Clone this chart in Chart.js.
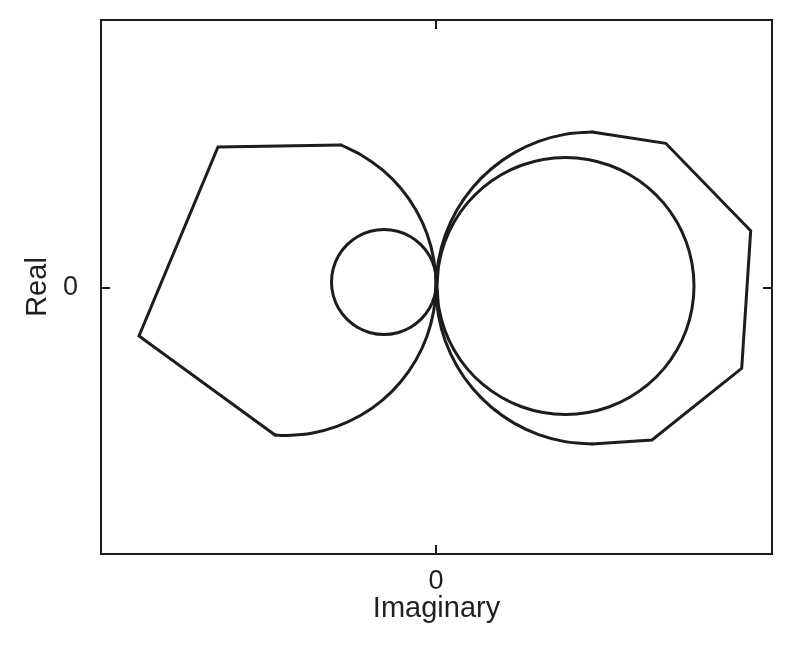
<!DOCTYPE html>
<html>
<head>
<meta charset="utf-8">
<script src="https://cdn.jsdelivr.net/npm/chart.js@4.4.1/dist/chart.umd.min.js"></script>
<style>
  html, body { margin: 0; padding: 0; background: #fff; }
  #wrap { width: 790px; height: 645px; }
</style>
</head>
<body>
<div id="wrap"><canvas id="nyquist" width="790" height="645"></canvas></div>
<script>
// Values (arbitrary units, origin at the 0 ticks)
const tickValues = [0];
const tickLabels = ['0'];

// left curve: arc through the origin ...
const leftArcX = [-0.95, -0.752, -0.538, -0.352, -0.202, -0.091, -0.023, 0.0, -0.023, -0.091, -0.202,
  -0.352, -0.538, -0.752, -0.99, -1.244, -1.505, -1.61];
const leftArcY = [1.43, 1.333, 1.183, 0.997, 0.782, 0.545, 0.291, 0.03, -0.231, -0.485, -0.723,
  -0.937, -1.123, -1.273, -1.384, -1.452, -1.475, -1.47];
// ... closed by straight edges
const leftEdgeX = [-1.61, -2.97, -2.18, -0.95];
const leftEdgeY = [-1.47, -0.48, 1.41, 1.43];

// small loop left of the origin
const smallX = [0.005, -0.013, -0.065, -0.149, -0.2575, -0.384, -0.52, -0.656, -0.7825, -0.891, -0.975, -1.027,
  -1.045, -1.027, -0.975, -0.891, -0.7825, -0.656, -0.52, -0.384, -0.2575, -0.149, -0.065, -0.013, 0.005];
const smallY = [0.06, 0.196, 0.3225, 0.431, 0.515, 0.567, 0.585, 0.567, 0.515, 0.431, 0.3225, 0.196,
  0.06, -0.076, -0.2025, -0.311, -0.395, -0.447, -0.465, -0.447, -0.395, -0.311, -0.2025, -0.076, 0.06];

// inner loop right of the origin
const innerX = [0.01, 0.0295, 0.0875, 0.1822, 0.3107, 0.469, 0.6525, 0.8555, 1.0719, 1.295, 1.5181, 1.7345,
  1.9375, 2.121, 2.2793, 2.4078, 2.5025, 2.5605, 2.58, 2.5605, 2.5025, 2.4078, 2.2793, 2.121,
  1.9375, 1.7345, 1.5181, 1.295, 1.0719, 0.8555, 0.6525, 0.469, 0.3107, 0.1822, 0.0875, 0.0295, 0.01];
const innerY = [0.02, -0.2031, -0.4195, -0.6225, -0.806, -0.9643, -1.0928, -1.1875, -1.2455, -1.265, -1.2455, -1.1875,
  -1.0928, -0.9643, -0.806, -0.6225, -0.4195, -0.2031, 0.02, 0.2431, 0.4595, 0.6625, 0.846, 1.0043,
  1.1328, 1.2275, 1.2855, 1.305, 1.2855, 1.2275, 1.1328, 1.0043, 0.846, 0.6625, 0.4595, 0.2431, 0.02];

// outer right curve: arc through the origin ...
const outerArcX = [1.56, 1.2892, 1.0265, 0.78, 0.5572, 0.365, 0.209, 0.0941, 0.0237, 0.0, 0.0237, 0.0941,
  0.209, 0.365, 0.5572, 0.78, 1.0265, 1.2892, 1.56];
const outerArcY = [1.56, 1.5363, 1.4659, 1.351, 1.195, 1.0028, 0.78, 0.5335, 0.2708, 0.0, -0.2708, -0.5335,
  -0.78, -1.0028, -1.195, -1.351, -1.4659, -1.5363, -1.56];
// ... closed by straight edges
const outerEdgeX = [1.56, 2.16, 3.057, 3.147, 2.297, 1.56];
const outerEdgeY = [-1.56, -1.52, -0.803, 0.573, 1.447, 1.56];

const ink = '#1d1d1b';
const fontFamily = "'Liberation Sans', Arial, Helvetica, sans-serif";

function toPoints(xs, ys) {
  return xs.map((x, i) => ({ x: x, y: ys[i] }));
}

// smooth = true for the round parts, false for the straight edges
function curve(xs, ys, smooth) {
  return {
    data: toPoints(xs, ys),
    showLine: true,
    borderColor: ink,
    borderWidth: 3,
    borderCapStyle: 'round',
    pointRadius: 0,
    fill: false,
    tension: smooth ? 0.335 : 0
  };
}

// frame round the plot area and inward tick marks on all four sides
const framePlugin = {
  id: 'frame',
  afterDraw(chart) {
    const { ctx, chartArea: a, scales } = chart;
    ctx.save();
    ctx.strokeStyle = ink;
    ctx.lineWidth = 2;
    ctx.strokeRect(a.left, a.top, a.right - a.left, a.bottom - a.top);
    const len = 9;
    tickValues.forEach(v => {
      const px = scales.x.getPixelForValue(v);
      const py = scales.y.getPixelForValue(v);
      ctx.beginPath();
      ctx.moveTo(px, a.bottom); ctx.lineTo(px, a.bottom - len);
      ctx.moveTo(px, a.top); ctx.lineTo(px, a.top + len);
      ctx.moveTo(a.left, py); ctx.lineTo(a.left + len, py);
      ctx.moveTo(a.right, py); ctx.lineTo(a.right - len, py);
      ctx.stroke();
    });
    ctx.restore();
  }
};

new Chart(document.getElementById('nyquist').getContext('2d'), {
  type: 'scatter',
  data: {
    datasets: [
      curve(leftArcX, leftArcY, true),
      curve(leftEdgeX, leftEdgeY, false),
      curve(smallX, smallY, true),
      curve(innerX, innerY, true),
      curve(outerArcX, outerArcY, true),
      curve(outerEdgeX, outerEdgeY, false)
    ]
  },
  options: {
    responsive: false,
    animation: false,
    layout: { padding: { top: 20, right: 18, left: 0, bottom: 0 } },
    plugins: { legend: { display: false }, tooltip: { enabled: false } },
    scales: {
      x: {
        type: 'linear',
        min: -3.35,
        max: 3.36,
        grid: { display: false, drawTicks: false },
        border: { display: false },
        afterBuildTicks: s => { s.ticks = tickValues.map(v => ({ value: v })); },
        afterFit: s => { s.height = 91; s.paddingLeft = 0; s.paddingRight = 0; },
        ticks: {
          padding: 11,
          color: '#231f20',
          font: { family: fontFamily, size: 27 },
          callback: (v) => tickLabels[tickValues.indexOf(v)]
        },
        title: {
          display: true,
          text: 'Imaginary',
          color: '#231f20',
          font: { family: fontFamily, size: 29 },
          padding: { top: 0, bottom: 19 }
        }
      },
      y: {
        type: 'linear',
        min: -2.66,
        max: 2.68,
        grid: { display: false, drawTicks: false },
        border: { display: false },
        afterBuildTicks: s => { s.ticks = tickValues.map(v => ({ value: v })); },
        afterFit: s => { s.width = 101; s.paddingTop = 0; s.paddingBottom = 0; },
        ticks: {
          padding: 23,
          color: '#231f20',
          font: { family: fontFamily, size: 27 },
          callback: (v) => tickLabels[tickValues.indexOf(v)]
        },
        title: {
          display: true,
          text: 'Real',
          color: '#231f20',
          font: { family: fontFamily, size: 29 },
          padding: { top: 21, bottom: 0 }
        }
      }
    }
  },
  plugins: [framePlugin]
});
</script>
</body>
</html>
